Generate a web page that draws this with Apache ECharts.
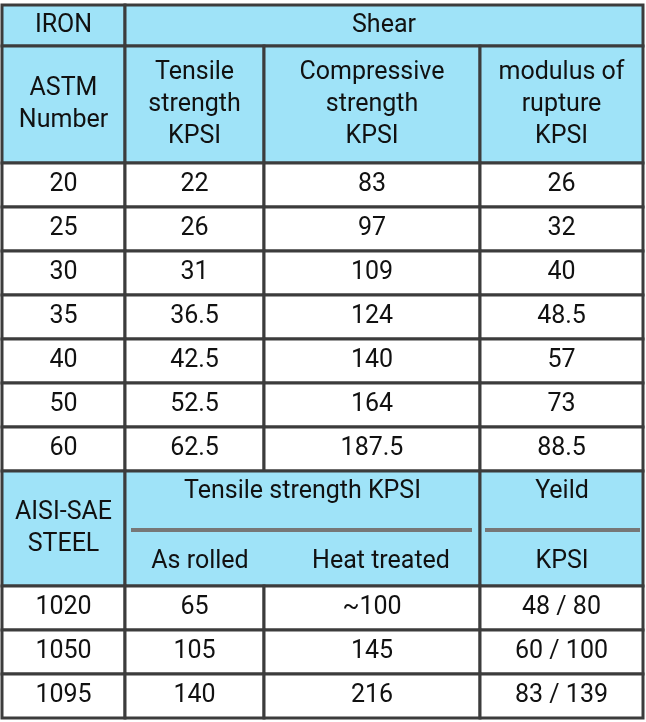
<!DOCTYPE html><html><head><meta charset="utf-8">
<script src="https://cdn.jsdelivr.net/npm/echarts@6/dist/echarts.min.js"></script>
<style>html,body{margin:0;padding:0;background:#fff}#c{width:646px;height:722px}</style></head>
<body><div id="c"></div><script>
const ironGrades=['20','25','30','35','40','50','60'];
const ironTensile=['22','26','31','36.5','42.5','52.5','62.5'];
const ironCompressive=['83','97','109','124','140','164','187.5'];
const ironRupture=['26','32','40','48.5','57','73','88.5'];
const steelGrades=['1020','1050','1095'];
const steelRolled=['65','105','140'];
const steelHeat=['~100','145','216'];
const steelYield=['48 / 80','60 / 100','83 / 139'];
const ironHeaders=['ASTM\nNumber','Tensile\nstrength\nKPSI','Compressive\nstrength\nKPSI','modulus of\nrupture\nKPSI'];

const colX=[2,125,264,480,643];
const rowY=[5,46,163,207,251,295,339,383,427,471,586,630,674,718];
const HB='#9fe3f8';
const cells=[];
function cell(c0,c1,r0,r1,text,fill,opt){cells.push(Object.assign({x0:colX[c0],x1:colX[c1],y0:rowY[r0],y1:rowY[r1],text:text,fill:fill},opt||{}));}
cell(0,1,0,1,'IRON',HB);
cell(1,4,0,1,'Shear',HB);
ironHeaders.forEach((t,i)=>cell(i,i+1,1,2,t,HB));
ironGrades.forEach((g,i)=>{
  [g,ironTensile[i],ironCompressive[i],ironRupture[i]].forEach((v,j)=>cell(j,j+1,2+i,3+i,v,'#fff'));
});
cell(0,1,9,10,'AISI-SAE\nSTEEL',HB);
cell(1,3,9,10,'',HB,{sub:[['Tensile strength KPSI',(colX[1]+colX[3])/2,492],['As rolled',200,562],['Heat treated',381,562]],div:[131,472,530]});
cell(3,4,9,10,'',HB,{sub:[['Yeild',562,492],['KPSI',562,562]],div:[485,640,530]});
steelGrades.forEach((g,i)=>{
  [g,steelRolled[i],steelHeat[i],steelYield[i]].forEach((v,j)=>cell(j,j+1,10+i,11+i,v,'#fff'));
});
const font={fontFamily:'Roboto',fontSize:25,fill:'#111',lineHeight:32};
const chart=echarts.init(document.getElementById('c'));
chart.setOption({
  animation:false,
  grid:{left:0,right:0,top:0,bottom:0},
  xAxis:{type:'value',min:0,max:646,show:false},
  yAxis:{type:'value',min:0,max:722,inverse:true,show:false},
  series:[{type:'custom',coordinateSystem:'cartesian2d',
    data:cells.map((c,i)=>[c.x0,c.y0,c.x1,c.y1,i]),
    renderItem:(params,api)=>{
      const c=cells[api.value(4)];
      const p0=api.coord([api.value(0),api.value(1)]),p1=api.coord([api.value(2),api.value(3)]);
      const ch=[{type:'rect',shape:{x:p0[0],y:p0[1],width:p1[0]-p0[0],height:p1[1]-p0[1]},style:{fill:c.fill,stroke:'#3c3c3c',lineWidth:3}}];
      if(c.text)ch.push({type:'text',style:Object.assign({text:c.text,x:(p0[0]+p1[0])/2,y:(p0[1]+p1[1])/2,align:'center',verticalAlign:'middle'},font)});
      (c.sub||[]).forEach(s=>{const p=api.coord([s[1],s[2]]);ch.push({type:'text',style:Object.assign({text:s[0],x:p[0],y:p[1],align:'center',verticalAlign:'middle'},font)});});
      if(c.div){const a=api.coord([c.div[0],c.div[2]]),b=api.coord([c.div[1],c.div[2]]);ch.push({type:'line',shape:{x1:a[0],y1:a[1],x2:b[0],y2:b[1]},style:{stroke:'#777',lineWidth:4}});}
      return {type:'group',children:ch};
    }}]
});
</script></body></html>
